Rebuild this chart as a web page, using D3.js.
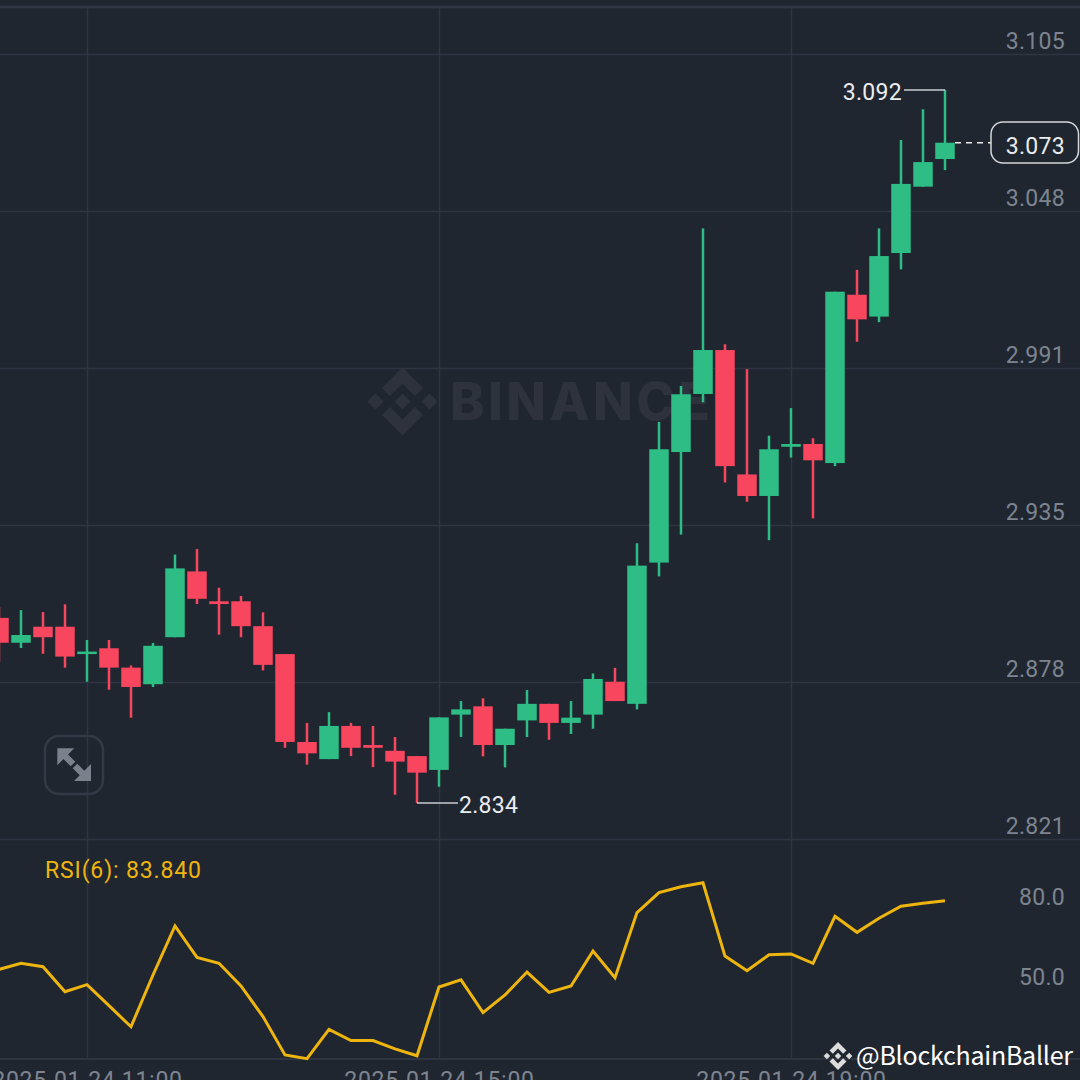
<!DOCTYPE html>
<html>
<head>
<meta charset="utf-8">
<script src="https://cdn.jsdelivr.net/npm/d3@7"></script>
<style>
  html, body { margin: 0; padding: 0; background: #1f2630; overflow: hidden; }
  svg { display: block; }
  text { font-family: Roboto, sans-serif; }
</style>
</head>
<body>
<div id="chart"></div>
<script>
const opens = [2.9010, 2.8920, 2.8978, 2.8978, 2.8879, 2.8900, 2.8830, 2.8770, 2.8940, 2.9178, 2.9070, 2.9070, 2.8980, 2.8879, 2.8561, 2.8499, 2.8619, 2.8550, 2.8529, 2.8510, 2.8460, 2.8660, 2.8690, 2.8550, 2.8639, 2.8699, 2.8630, 2.8660, 2.8779, 2.8699, 2.9210, 2.9610, 2.9820, 2.9979, 2.9529, 2.9451, 2.9629, 2.9639, 2.9570, 3.0179, 3.0100, 3.0330, 3.0570, 3.0670];
const highs = [2.9049, 2.9038, 2.9031, 2.9059, 2.8930, 2.8930, 2.8838, 2.8919, 2.9239, 2.9259, 2.9119, 2.9089, 2.9030, 2.8879, 2.8630, 2.8669, 2.8630, 2.8619, 2.8579, 2.8510, 2.8650, 2.8709, 2.8719, 2.8609, 2.8749, 2.8699, 2.8709, 2.8809, 2.8829, 2.9280, 2.9719, 2.9849, 3.0419, 3.0000, 2.9910, 2.9669, 2.9769, 2.9660, 3.0190, 3.0269, 3.0419, 3.0739, 3.0850, 3.0920];
const lows = [2.8851, 2.8901, 2.8880, 2.8830, 2.8779, 2.8750, 2.8649, 2.8760, 2.8940, 2.9060, 2.8949, 2.8940, 2.8820, 2.8540, 2.8479, 2.8499, 2.8510, 2.8470, 2.8370, 2.8340, 2.8399, 2.8579, 2.8509, 2.8469, 2.8579, 2.8569, 2.8590, 2.8609, 2.8709, 2.8679, 2.9160, 2.9311, 2.9790, 2.9500, 2.9430, 2.9291, 2.9590, 2.9370, 2.9559, 3.0009, 3.0080, 3.0271, 3.0570, 3.0630];
const closes = [2.8920, 2.8948, 2.8940, 2.8870, 2.8888, 2.8830, 2.8760, 2.8909, 2.9189, 2.9079, 2.9060, 2.8980, 2.8840, 2.8561, 2.8520, 2.8619, 2.8540, 2.8540, 2.8490, 2.8450, 2.8650, 2.8679, 2.8550, 2.8609, 2.8699, 2.8630, 2.8649, 2.8789, 2.8709, 2.9199, 2.9620, 2.9819, 2.9979, 2.9559, 2.9451, 2.9620, 2.9639, 2.9580, 3.0190, 3.0090, 3.0319, 3.0580, 3.0659, 3.0729];
const rsiValues = [58.1, 60.4, 59.1, 49.7, 52.4, 44.5, 36.6, 56.0, 74.4, 62.6, 60.4, 51.9, 40.4, 26.0, 24.6, 35.6, 31.4, 31.4, 28.3, 25.7, 51.5, 54.2, 41.9, 48.5, 57.1, 49.5, 51.9, 65.0, 55.0, 79.4, 86.9, 89.1, 90.6, 63.1, 57.6, 63.6, 63.9, 60.4, 78.0, 72.0, 77.3, 81.8, 82.9, 83.84];
const priceTicks = [3.105, 3.0482, 2.9914, 2.9346, 2.8778, 2.821];
const rsiTicks = [80, 50];
const timeTicks = ['2025-01-24T11:00Z', '2025-01-24T15:00Z', '2025-01-24T19:00Z'].map(d => new Date(d));

const width = 1080;
const height = 1080;
const bodyWidth = 19.5;
const gridColor = '#2f3540';
const tickColor = '#7d848f';
const green = '#2ebd85';
const red = '#f9465f';
const yellow = '#eeb50f';

const start = new Date('2025-01-24T10:00Z');
const times = opens.map((d, i) => new Date(+start + i * 15 * 60000));

const x = d3.scaleUtc().domain([times[0], times[times.length - 1]]).range([-1, 945]);
const y = d3.scaleLinear().domain([2.821, 3.105]).range([839, 54]);
const rsiY = d3.scaleLinear().domain([50, 80]).range([991, 911]);

const svg = d3.select('#chart').append('svg').attr('width', width).attr('height', height);
svg.append('rect').attr('width', width).attr('height', height).attr('fill', '#1f2630');

// top border
svg.append('line').attr('x1', 0).attr('x2', width).attr('y1', 7).attr('y2', 7)
  .attr('stroke', gridColor).attr('stroke-width', 3);

// price grid + labels
const yAxis = svg.append('g')
  .call(d3.axisRight(y).tickValues(priceTicks).tickSize(width).tickFormat(d3.format('.3f')));
yAxis.select('.domain').remove();
yAxis.selectAll('line').attr('stroke', gridColor).attr('stroke-width', 1.5);
yAxis.selectAll('text')
  .attr('x', 1065).attr('dy', -5.5).attr('text-anchor', 'end')
  .attr('font-size', 23).attr('letter-spacing', 0.3).attr('fill', tickColor);

// time grid + labels
const xAxis = svg.append('g').attr('transform', 'translate(0,1059)')
  .call(d3.axisBottom(x).tickValues(timeTicks).tickSize(-1051).tickFormat(d3.utcFormat('%Y-%m-%d %H:%M')));
xAxis.select('.domain').attr('stroke', gridColor).attr('stroke-width', 2).attr('d', `M0,0H${width}`);
xAxis.selectAll('line').attr('stroke', gridColor).attr('stroke-width', 1.5);
xAxis.selectAll('text')
  .attr('y', 29).attr('dy', 0)
  .attr('font-size', 23).attr('letter-spacing', 0.7).attr('fill', tickColor);

// binance logo, s = half size
function logo(parent, cx, cy, s, fill) {
  const k = s / 34;
  const g = parent.append('g').attr('transform', `translate(${cx},${cy}) scale(${k})`).attr('fill', fill);
  g.append('path').attr('d', 'M0,-34L20.5,-13.5L12.5,-5.5L0,-18L-12.5,-5.5L-20.5,-13.5Z');
  g.append('path').attr('d', 'M0,34L20.5,13.5L12.5,5.5L0,18L-12.5,5.5L-20.5,13.5Z');
  g.append('path').attr('d', 'M0,-8L8,0L0,8L-8,0Z');
  g.append('path').attr('d', 'M-27,-8L-19,0L-27,8L-35,0Z');
  g.append('path').attr('d', 'M27,-8L35,0L27,8L19,0Z');
}

logo(svg, 402.5, 401.5, 34, '#2d323c');
svg.append('text').attr('x', 450).attr('y', 420)
  .attr('font-weight', 800).attr('font-size', 52)
  .attr('textLength', 260).attr('fill', '#2d323c').style('font-family', 'Inter, sans-serif')
  .text('BINANCE');

// expand icon
const icon = svg.append('g');
icon.append('rect').attr('x', 45).attr('y', 736).attr('width', 58).attr('height', 58).attr('rx', 14)
  .attr('fill', 'none').attr('stroke', '#333a45').attr('stroke-width', 2.5);
icon.append('path').attr('d', 'M57.3,748.3H74.3L57.3,765.3Z M91,781H74L91,764Z').attr('fill', '#7a818c');
icon.append('path').attr('d', 'M65,756L73,764 M75,766L83,774').attr('stroke', '#7a818c').attr('stroke-width', 6.5);

// candles
const candles = svg.append('g').selectAll('g').data(times).join('g')
  .attr('fill', (d, i) => closes[i] >= opens[i] ? green : red);
candles.append('rect')
  .attr('x', d => x(d) - 1.25)
  .attr('width', 2.5)
  .attr('y', (d, i) => y(highs[i]))
  .attr('height', (d, i) => y(lows[i]) - y(highs[i]));
candles.append('rect')
  .attr('x', d => x(d) - bodyWidth / 2)
  .attr('width', bodyWidth)
  .attr('y', (d, i) => y(Math.max(opens[i], closes[i])))
  .attr('height', (d, i) => Math.abs(y(opens[i]) - y(closes[i])));

// high / low callouts
const hiIdx = d3.maxIndex(highs);
const loIdx = d3.minIndex(lows);
svg.append('line').attr('x1', x(times[hiIdx]) - 41).attr('x2', x(times[hiIdx]))
  .attr('y1', y(highs[hiIdx])).attr('y2', y(highs[hiIdx]))
  .attr('stroke', '#c9ccd1').attr('stroke-width', 1.5);
svg.append('text').attr('x', x(times[hiIdx]) - 43).attr('y', y(highs[hiIdx]) + 10)
  .attr('text-anchor', 'end').attr('font-size', 23).attr('letter-spacing', 0.3).attr('fill', '#eaecef')
  .text(highs[hiIdx].toFixed(3));
svg.append('line').attr('x1', x(times[loIdx])).attr('x2', x(times[loIdx]) + 41)
  .attr('y1', y(lows[loIdx])).attr('y2', y(lows[loIdx]))
  .attr('stroke', '#c9ccd1').attr('stroke-width', 1.5);
svg.append('text').attr('x', x(times[loIdx]) + 42).attr('y', y(lows[loIdx]) + 10)
  .attr('font-size', 23).attr('letter-spacing', 0.3).attr('fill', '#eaecef')
  .text(lows[loIdx].toFixed(3));

// last price
const last = closes[closes.length - 1];
svg.append('line').attr('x1', 955).attr('x2', 991).attr('y1', y(last)).attr('y2', y(last))
  .attr('stroke', '#eaecef').attr('stroke-width', 1.5).attr('stroke-dasharray', '6 5');
svg.append('rect').attr('x', 991).attr('y', 122).attr('width', 87.5).attr('height', 41).attr('rx', 12)
  .attr('fill', '#1f2630').attr('stroke', '#d5d7da').attr('stroke-width', 1.5);
svg.append('text').attr('x', 1065).attr('y', 154).attr('text-anchor', 'end')
  .attr('font-size', 23).attr('letter-spacing', 0.3).attr('fill', '#eaecef').text(last.toFixed(3));

// rsi
const rsiAxis = svg.append('g')
  .call(d3.axisRight(rsiY).tickValues(rsiTicks).tickSize(0).tickFormat(d3.format('.1f')));
rsiAxis.select('.domain').remove();
rsiAxis.selectAll('text')
  .attr('x', 1065).attr('dy', -6.5).attr('text-anchor', 'end')
  .attr('font-size', 23).attr('letter-spacing', 0.3).attr('fill', tickColor);

svg.append('path').datum(rsiValues)
  .attr('fill', 'none').attr('stroke', yellow).attr('stroke-width', 3)
  .attr('d', d3.line().x((d, i) => x(times[i])).y(d => rsiY(d)));

svg.append('text').attr('x', 45).attr('y', 878)
  .attr('font-size', 23).attr('letter-spacing', 0.85).attr('fill', yellow)
  .text('RSI(6): ' + rsiValues[rsiValues.length - 1].toFixed(3));

// author tag
logo(svg, 838, 1056, 14, '#dcdcdc');
svg.append('text').attr('x', 856).attr('y', 1065)
  .style('font-family', '"Noto Sans CJK SC", "Noto Sans", sans-serif')
  .attr('font-size', 25).attr('textLength', 217).attr('fill', '#ffffff')
  .text('@BlockchainBaller');
</script>
</body>
</html>
